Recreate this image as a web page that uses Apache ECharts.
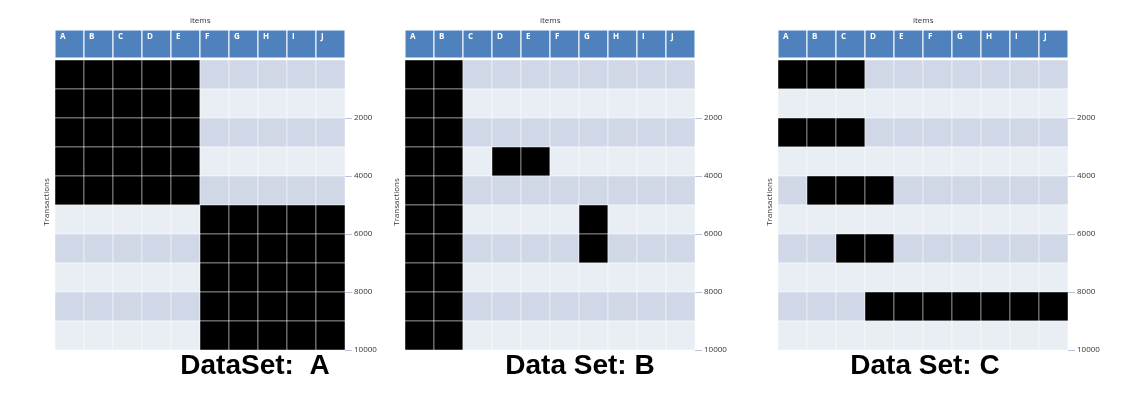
<!DOCTYPE html>
<html><head><meta charset="utf-8">
<script src="https://cdn.jsdelivr.net/npm/echarts@6/dist/echarts.min.js"></script>
<style>html,body{margin:0;padding:0;background:#fff}#c{width:1134px;height:396px}</style>
</head><body><div id="c"></div>
<script>
const items = ['A','B','C','D','E','F','G','H','I','J'];
const rowBands = ['0','1000','2000','3000','4000','5000','6000','7000','8000','9000'];
const yTicks = [2000, 4000, 6000, 8000, 10000];
const captions = ['DataSet:  A', 'Data Set: B', 'Data Set: C'];

// 1 = item present (black), 0 = absent
const setA = [
  [1,1,1,1,1,0,0,0,0,0],
  [1,1,1,1,1,0,0,0,0,0],
  [1,1,1,1,1,0,0,0,0,0],
  [1,1,1,1,1,0,0,0,0,0],
  [1,1,1,1,1,0,0,0,0,0],
  [0,0,0,0,0,1,1,1,1,1],
  [0,0,0,0,0,1,1,1,1,1],
  [0,0,0,0,0,1,1,1,1,1],
  [0,0,0,0,0,1,1,1,1,1],
  [0,0,0,0,0,1,1,1,1,1]
];
const setB = [
  [1,1,0,0,0,0,0,0,0,0],
  [1,1,0,0,0,0,0,0,0,0],
  [1,1,0,0,0,0,0,0,0,0],
  [1,1,0,1,1,0,0,0,0,0],
  [1,1,0,0,0,0,0,0,0,0],
  [1,1,0,0,0,0,1,0,0,0],
  [1,1,0,0,0,0,1,0,0,0],
  [1,1,0,0,0,0,0,0,0,0],
  [1,1,0,0,0,0,0,0,0,0],
  [1,1,0,0,0,0,0,0,0,0]
];
const setC = [
  [1,1,1,0,0,0,0,0,0,0],
  [0,0,0,0,0,0,0,0,0,0],
  [1,1,1,0,0,0,0,0,0,0],
  [0,0,0,0,0,0,0,0,0,0],
  [0,1,1,1,0,0,0,0,0,0],
  [0,0,0,0,0,0,0,0,0,0],
  [0,0,1,1,0,0,0,0,0,0],
  [0,0,0,0,0,0,0,0,0,0],
  [0,0,0,1,1,1,1,1,1,1],
  [0,0,0,0,0,0,0,0,0,0]
];
const sets = [setA, setB, setC];

const panelLeft = [55, 405, 778];
const W = 290, TOP = 60, H = 290, HEAD_TOP = 30, HEAD_H = 28;
const FONT = '"Open Sans", "Liberation Sans", sans-serif';

const grid = [], xAxis = [], yAxis = [], series = [], graphic = [];

panelLeft.forEach((left, p) => {
  const gHead = grid.length;
  grid.push({left: left, top: HEAD_TOP, width: W, height: HEAD_H});
  const gData = grid.length;
  grid.push({left: left, top: TOP, width: W, height: H});

  xAxis.push({gridIndex: gHead, type: 'category', data: items, show: false});
  xAxis.push({gridIndex: gData, type: 'category', data: items, show: false});
  const yHead = yAxis.length;
  yAxis.push({gridIndex: gHead, type: 'category', data: ['h'], show: false});
  const yData = yAxis.length;
  yAxis.push({gridIndex: gData, type: 'category', data: rowBands, inverse: true, show: false});
  yAxis.push({gridIndex: gData, type: 'value', min: 0, max: 10000, inverse: true, position: 'right',
    splitLine: {show: false}, axisLine: {show: false},
    axisTick: {show: true, length: 7, customValues: yTicks, lineStyle: {color: '#B4C4DC', width: 1}},
    axisLabel: {customValues: yTicks, fontSize: 8, color: '#333', fontFamily: FONT, margin: 9,
      formatter: v => String(v)}
  });

  // header cells
  series.push({
    type: 'custom', xAxisIndex: gHead, yAxisIndex: yHead, silent: true,
    data: items.map((it, i) => [i, 0]),
    renderItem: (params, api) => {
      const c = api.coord([api.value(0), 0]);
      const s = api.size([1, 1]);
      const x0 = c[0] - s[0] / 2, y0 = c[1] - s[1] / 2;
      return {type: 'group', children: [
        {type: 'rect', shape: {x: x0, y: y0, width: s[0], height: s[1]},
         style: {fill: '#4F81BD', stroke: '#ffffff', lineWidth: 1}},
        {type: 'text', style: {text: items[api.value(0)], x: x0 + 5, y: y0 + 7,
          fill: '#fff', font: 'bold 8px ' + FONT, textVerticalAlign: 'middle'}}
      ]};
    }
  });

  // data cells
  const cells = [];
  sets[p].forEach((row, r) => row.forEach((v, ci) => cells.push([ci, r, v])));
  series.push({
    type: 'custom', xAxisIndex: gData, yAxisIndex: yData, silent: true,
    data: cells,
    renderItem: (params, api) => {
      const c = api.coord([api.value(0), api.value(1)]);
      const s = api.size([1, 1]);
      const v = api.value(2), r = api.value(1);
      return {type: 'rect', shape: {x: c[0] - s[0] / 2, y: c[1] - s[1] / 2, width: s[0], height: s[1]},
        style: {fill: v ? '#000000' : (r % 2 === 0 ? '#D0D8E8' : '#E9EDF4'),
                stroke: 'rgba(255,255,255,0.45)', lineWidth: 1}};
    }
  });

  graphic.push({type: 'text', left: left + W / 2 - 10, top: 17,
    style: {text: 'items', font: '8px ' + FONT, fill: '#333'}});
  graphic.push({type: 'text', x: left - 8, y: 202, rotation: Math.PI / 2,
    style: {text: 'Transactions', font: '8px ' + FONT, fill: '#333', textAlign: 'center', textVerticalAlign: 'middle'}});
});

const capCenters = [255, 580, 925];
captions.forEach((t, i) => {
  graphic.push({type: 'text', x: capCenters[i], y: 366,
    style: {text: t, font: 'bold 28px "Liberation Sans", Arial, sans-serif', fill: '#000',
      textAlign: 'center', textVerticalAlign: 'middle'}});
});

const chart = echarts.init(document.getElementById('c'), null, {renderer: 'canvas'});
chart.setOption({animation: false, grid, xAxis, yAxis, series, graphic});
</script></body></html>
